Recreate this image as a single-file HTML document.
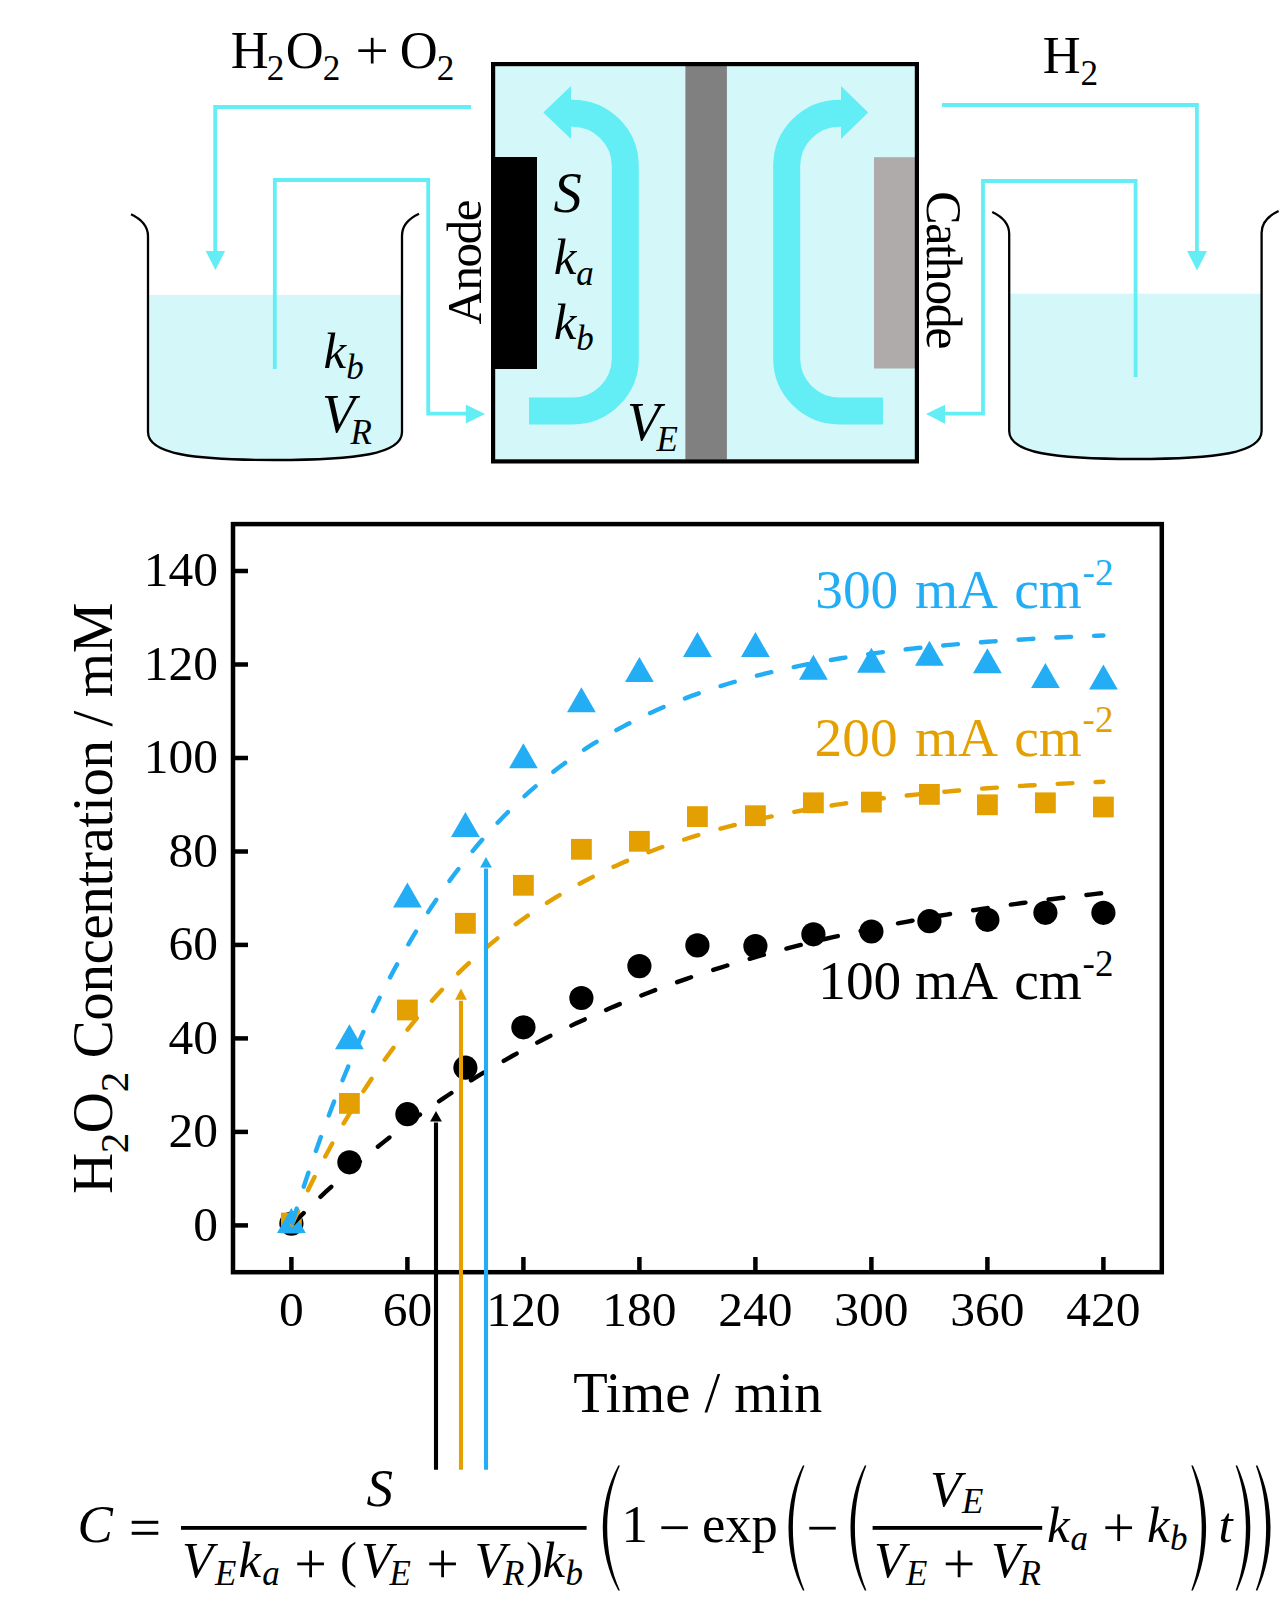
<!DOCTYPE html><html><head><meta charset="utf-8"><style>html,body{margin:0;padding:0;background:#fff;}body{width:1285px;height:1614px;position:relative;overflow:hidden;font-family:"Liberation Serif",serif;}</style></head><body><svg width="1285" height="1614" viewBox="0 0 1285 1614" style="position:absolute;left:0;top:0">
<path d="M148,295 H402 V432 C402,454 357,460 275.0,460 C193,460 148,454 148,432 Z" fill="#d4f8fa"/><path d="M131,214.2 Q148,222.2 148,236.2 V432 C148,454 193,460 275.0,460 C357,460 402,454 402,432 V235.8 Q402,221.8 419,213.8" fill="none" stroke="#000" stroke-width="2.3"/>
<path d="M1009.2,293.7 H1261.6 V431 C1261.6,453 1216.6,459 1135.4,459 C1054.2,459 1009.2,453 1009.2,431 Z" fill="#d4f8fa"/><path d="M992.2,212 Q1009.2,220 1009.2,234 V431 C1009.2,453 1054.2,459 1135.4,459 C1216.6,459 1261.6,453 1261.6,431 V233 Q1261.6,219 1278.6,211" fill="none" stroke="#000" stroke-width="2.3"/>
<rect x="493.1" y="64.1" width="423.8" height="397.3" fill="#d4f8fa"/>
<rect x="685.4" y="66" width="41.5" height="393.5" fill="#808080"/>
<rect x="491" y="157" width="46" height="212" fill="#000"/>
<rect x="874" y="157.2" width="42" height="211.3" fill="#afabab"/>
<rect x="493.1" y="64.1" width="423.8" height="397.3" fill="none" stroke="#000" stroke-width="4.2"/>
<path d="M529,411 H572.8 A52.5,52.5 0 0 0 625.3,358.4 V166 A52.8,52.8 0 0 0 572.5,113.2 H570" fill="none" stroke="#62eef4" stroke-width="27"/>
<polygon points="571,86 543.3,112.5 571,139" fill="#62eef4"/>
<path d="M883,411 H839.2 A52.5,52.5 0 0 1 786.7,358.4 V166 A52.8,52.8 0 0 1 839.5,113.2 H842" fill="none" stroke="#62eef4" stroke-width="27"/>
<polygon points="841,86 868.2,112.5 841,139" fill="#62eef4"/>
<path d="M471,107 H215.2 V253" fill="none" stroke="#62eef4" stroke-width="3.8"/>
<polygon points="205.7,251 225.1,251 215.4,270" fill="#62eef4"/>
<path d="M274.8,369 V180 H428.2 V413.6 H467" fill="none" stroke="#62eef4" stroke-width="3.8"/>
<polygon points="465.8,404.5 465.8,423.6 485,414" fill="#62eef4"/>
<path d="M942,105 H1196.9 V252" fill="none" stroke="#62eef4" stroke-width="3.8"/>
<polygon points="1187.2,251 1207,251 1197,270.5" fill="#62eef4"/>
<path d="M1135.6,377 V181 H983 V413.6 H944" fill="none" stroke="#62eef4" stroke-width="3.8"/>
<polygon points="945,404.7 945,423.7 926,414" fill="#62eef4"/>
<text y="68.2" font-family="Liberation Serif" font-size="52.5"><tspan x="230.8">H</tspan><tspan x="285.75">O</tspan><tspan x="399.65">O</tspan></text>
<text y="79.7" font-family="Liberation Serif" font-size="35.2"><tspan x="266.8">2</tspan><tspan x="322.8">2</tspan><tspan x="436.8">2</tspan></text>
<rect x="358.3" y="49.3" width="27.7" height="2.7" fill="#000"/><rect x="370.85" y="37.8" width="2.7" height="25.7" fill="#000"/>
<text x="1042.7" y="73.2" font-family="Liberation Serif" font-size="52.5">H<tspan font-size="35.2" dy="11.5">2</tspan></text>
<text transform="translate(481.4,324.5) rotate(-90)" x="0" y="0" font-family="Liberation Serif" font-size="49" letter-spacing="-1.4">Anode</text>
<text transform="translate(927.3,191.3) rotate(90)" x="0" y="0" font-family="Liberation Serif" font-size="50" letter-spacing="-1.4">Cathode</text>
<text x="553.5" y="212" font-family="Liberation Serif" font-size="56.5" font-style="italic">S</text>
<text x="553.7" y="274.2" font-family="Liberation Serif" font-size="51" font-style="italic">k<tspan font-size="35" dy="11">a</tspan></text>
<text x="553.7" y="338.5" font-family="Liberation Serif" font-size="51" font-style="italic">k<tspan font-size="35" dy="11">b</tspan></text>
<text x="323.5" y="367.9" font-family="Liberation Serif" font-size="51" font-style="italic">k<tspan font-size="35" dy="11">b</tspan></text>
<text x="322" y="432.1" font-family="Liberation Serif" font-size="54" font-style="italic">V<tspan font-size="35" dy="11.5" dx="-4.5">R</tspan></text>
<text x="627" y="439.6" font-family="Liberation Serif" font-size="54" font-style="italic">V<tspan font-size="35" dy="11.5" dx="-3.5">E</tspan></text>
<rect x="233" y="524.1" width="928.8" height="748.1" fill="none" stroke="#000" stroke-width="4.5"/>
<line x1="235" y1="1225.4" x2="248" y2="1225.4" stroke="#000" stroke-width="4.5"/>
<text x="218" y="1240.8000000000002" font-family="Liberation Serif" font-size="49.5" text-anchor="end" fill="#000" >0</text>
<line x1="235" y1="1131.9" x2="248" y2="1131.9" stroke="#000" stroke-width="4.5"/>
<text x="218" y="1147.314285714286" font-family="Liberation Serif" font-size="49.5" text-anchor="end" fill="#000" >20</text>
<line x1="235" y1="1038.4" x2="248" y2="1038.4" stroke="#000" stroke-width="4.5"/>
<text x="218" y="1053.8285714285716" font-family="Liberation Serif" font-size="49.5" text-anchor="end" fill="#000" >40</text>
<line x1="235" y1="944.9" x2="248" y2="944.9" stroke="#000" stroke-width="4.5"/>
<text x="218" y="960.3428571428573" font-family="Liberation Serif" font-size="49.5" text-anchor="end" fill="#000" >60</text>
<line x1="235" y1="851.5" x2="248" y2="851.5" stroke="#000" stroke-width="4.5"/>
<text x="218" y="866.857142857143" font-family="Liberation Serif" font-size="49.5" text-anchor="end" fill="#000" >80</text>
<line x1="235" y1="758.0" x2="248" y2="758.0" stroke="#000" stroke-width="4.5"/>
<text x="218" y="773.3714285714286" font-family="Liberation Serif" font-size="49.5" text-anchor="end" fill="#000" >100</text>
<line x1="235" y1="664.5" x2="248" y2="664.5" stroke="#000" stroke-width="4.5"/>
<text x="218" y="679.8857142857144" font-family="Liberation Serif" font-size="49.5" text-anchor="end" fill="#000" >120</text>
<line x1="235" y1="571.0" x2="248" y2="571.0" stroke="#000" stroke-width="4.5"/>
<text x="218" y="586.4000000000001" font-family="Liberation Serif" font-size="49.5" text-anchor="end" fill="#000" >140</text>
<line x1="291.4" y1="1270" x2="291.4" y2="1257" stroke="#000" stroke-width="4.5"/>
<text x="291.4" y="1325.7" font-family="Liberation Serif" font-size="49.5" text-anchor="middle" fill="#000" >0</text>
<line x1="407.4" y1="1270" x2="407.4" y2="1257" stroke="#000" stroke-width="4.5"/>
<text x="407.4" y="1325.7" font-family="Liberation Serif" font-size="49.5" text-anchor="middle" fill="#000" >60</text>
<line x1="523.4" y1="1270" x2="523.4" y2="1257" stroke="#000" stroke-width="4.5"/>
<text x="523.4" y="1325.7" font-family="Liberation Serif" font-size="49.5" text-anchor="middle" fill="#000" >120</text>
<line x1="639.4" y1="1270" x2="639.4" y2="1257" stroke="#000" stroke-width="4.5"/>
<text x="639.4" y="1325.7" font-family="Liberation Serif" font-size="49.5" text-anchor="middle" fill="#000" >180</text>
<line x1="755.4" y1="1270" x2="755.4" y2="1257" stroke="#000" stroke-width="4.5"/>
<text x="755.4" y="1325.7" font-family="Liberation Serif" font-size="49.5" text-anchor="middle" fill="#000" >240</text>
<line x1="871.4" y1="1270" x2="871.4" y2="1257" stroke="#000" stroke-width="4.5"/>
<text x="871.4" y="1325.7" font-family="Liberation Serif" font-size="49.5" text-anchor="middle" fill="#000" >300</text>
<line x1="987.4" y1="1270" x2="987.4" y2="1257" stroke="#000" stroke-width="4.5"/>
<text x="987.4" y="1325.7" font-family="Liberation Serif" font-size="49.5" text-anchor="middle" fill="#000" >360</text>
<line x1="1103.4" y1="1270" x2="1103.4" y2="1257" stroke="#000" stroke-width="4.5"/>
<text x="1103.4" y="1325.7" font-family="Liberation Serif" font-size="49.5" text-anchor="middle" fill="#000" >420</text>
<text x="697.7" y="1411.8" font-family="Liberation Serif" font-size="56.5" text-anchor="middle" fill="#000" >Time / min</text>
<text transform="translate(111.6,898.5) rotate(-90)" x="0" y="0" font-family="Liberation Serif" font-size="57" text-anchor="middle" letter-spacing="-0.38">H<tspan font-size="41" dy="16">2</tspan><tspan dy="-16">O</tspan><tspan font-size="41" dy="16">2</tspan><tspan dy="-16"> Concentration / mM</tspan></text>
<circle cx="291.4" cy="1223.6" r="12.1" fill="#000"/>
<circle cx="349.4" cy="1162.3" r="12.1" fill="#000"/>
<circle cx="407.4" cy="1114.2" r="12.1" fill="#000"/>
<circle cx="465.4" cy="1067.7" r="12.1" fill="#000"/>
<circle cx="523.4" cy="1027.3" r="12.1" fill="#000"/>
<circle cx="581.4" cy="998" r="12.1" fill="#000"/>
<circle cx="639.4" cy="966.1" r="12.1" fill="#000"/>
<circle cx="697.4" cy="945.4" r="12.1" fill="#000"/>
<circle cx="755.4" cy="946.1" r="12.1" fill="#000"/>
<circle cx="813.4" cy="934.3" r="12.1" fill="#000"/>
<circle cx="871.4" cy="931.5" r="12.1" fill="#000"/>
<circle cx="929.4" cy="921.2" r="12.1" fill="#000"/>
<circle cx="987.4" cy="919.8" r="12.1" fill="#000"/>
<circle cx="1045.4" cy="912.8" r="12.1" fill="#000"/>
<circle cx="1103.4" cy="912.8" r="12.1" fill="#000"/>
<rect x="281.0" y="1212.6" width="20.8" height="20.8" fill="#e4a000"/>
<rect x="339.0" y="1093.0" width="20.8" height="20.8" fill="#e4a000"/>
<rect x="397.0" y="999.6" width="20.8" height="20.8" fill="#e4a000"/>
<rect x="455.0" y="912.9" width="20.8" height="20.8" fill="#e4a000"/>
<rect x="513.0" y="874.9" width="20.8" height="20.8" fill="#e4a000"/>
<rect x="571.0" y="838.9" width="20.8" height="20.8" fill="#e4a000"/>
<rect x="629.0" y="830.9" width="20.8" height="20.8" fill="#e4a000"/>
<rect x="687.0" y="806.2" width="20.8" height="20.8" fill="#e4a000"/>
<rect x="745.0" y="805.3" width="20.8" height="20.8" fill="#e4a000"/>
<rect x="803.0" y="792.4" width="20.8" height="20.8" fill="#e4a000"/>
<rect x="861.0" y="791.7" width="20.8" height="20.8" fill="#e4a000"/>
<rect x="919.0" y="784.0" width="20.8" height="20.8" fill="#e4a000"/>
<rect x="977.0" y="794.4" width="20.8" height="20.8" fill="#e4a000"/>
<rect x="1035.0" y="792.4" width="20.8" height="20.8" fill="#e4a000"/>
<rect x="1093.0" y="796.6" width="20.8" height="20.8" fill="#e4a000"/>
<polygon points="277.0,1232.9 305.8,1232.9 291.4,1207.9" fill="#22adf5"/>
<polygon points="335.0,1049.2 363.8,1049.2 349.4,1024.2" fill="#22adf5"/>
<polygon points="393.0,907.6 421.8,907.6 407.4,882.6" fill="#22adf5"/>
<polygon points="451.0,837 479.8,837 465.4,812" fill="#22adf5"/>
<polygon points="509.0,768.3 537.8,768.3 523.4,743.3" fill="#22adf5"/>
<polygon points="567.0,712.3 595.8,712.3 581.4,687.3" fill="#22adf5"/>
<polygon points="625.0,681.9 653.8,681.9 639.4,656.9" fill="#22adf5"/>
<polygon points="683.0,657 711.8,657 697.4,632" fill="#22adf5"/>
<polygon points="741.0,657 769.8,657 755.4,632" fill="#22adf5"/>
<polygon points="799.0,679.7 827.8,679.7 813.4,654.7" fill="#22adf5"/>
<polygon points="857.0,672.7 885.8,672.7 871.4,647.7" fill="#22adf5"/>
<polygon points="915.0,665.7 943.8,665.7 929.4,640.7" fill="#22adf5"/>
<polygon points="973.0,673.2 1001.8,673.2 987.4,648.2" fill="#22adf5"/>
<polygon points="1031.1,688.1 1059.8,688.1 1045.4,663.1" fill="#22adf5"/>
<polygon points="1089.1,689.5 1117.8,689.5 1103.4,664.5" fill="#22adf5"/>
<path d="M291.40,1225.40 L297.20,1219.51 L303.00,1213.72 L308.80,1208.02 L314.60,1202.41 L320.40,1196.89 L326.20,1191.45 L332.00,1186.11 L337.80,1180.84 L343.60,1175.66 L349.40,1170.56 L355.20,1165.54 L361.00,1160.60 L366.80,1155.74 L372.60,1150.96 L378.40,1146.25 L384.20,1141.61 L390.00,1137.05 L395.80,1132.56 L401.60,1128.14 L407.40,1123.80 L413.20,1119.52 L419.00,1115.31 L424.80,1111.16 L430.60,1107.08 L436.40,1103.06 L442.20,1099.11 L448.00,1095.22 L453.80,1091.39 L459.60,1087.63 L465.40,1083.92 L471.20,1080.27 L477.00,1076.68 L482.80,1073.14 L488.60,1069.66 L494.40,1066.24 L500.20,1062.87 L506.00,1059.55 L511.80,1056.29 L517.60,1053.08 L523.40,1049.91 L529.20,1046.80 L535.00,1043.74 L540.80,1040.72 L546.60,1037.76 L552.40,1034.84 L558.20,1031.96 L564.00,1029.14 L569.80,1026.35 L575.60,1023.61 L581.40,1020.92 L587.20,1018.26 L593.00,1015.65 L598.80,1013.08 L604.60,1010.55 L610.40,1008.06 L616.20,1005.61 L622.00,1003.20 L627.80,1000.82 L633.60,998.49 L639.40,996.19 L645.20,993.93 L651.00,991.70 L656.80,989.51 L662.60,987.35 L668.40,985.23 L674.20,983.14 L680.00,981.08 L685.80,979.06 L691.60,977.06 L697.40,975.10 L703.20,973.17 L709.00,971.27 L714.80,969.41 L720.60,967.57 L726.40,965.75 L732.20,963.97 L738.00,962.22 L743.80,960.49 L749.60,958.79 L755.40,957.12 L761.20,955.48 L767.00,953.86 L772.80,952.26 L778.60,950.69 L784.40,949.15 L790.20,947.63 L796.00,946.14 L801.80,944.66 L807.60,943.21 L813.40,941.79 L819.20,940.39 L825.00,939.01 L830.80,937.65 L836.60,936.31 L842.40,934.99 L848.20,933.70 L854.00,932.42 L859.80,931.17 L865.60,929.93 L871.40,928.71 L877.20,927.52 L883.00,926.34 L888.80,925.18 L894.60,924.04 L900.40,922.92 L906.20,921.81 L912.00,920.72 L917.80,919.65 L923.60,918.60 L929.40,917.56 L935.20,916.54 L941.00,915.54 L946.80,914.55 L952.60,913.58 L958.40,912.62 L964.20,911.68 L970.00,910.75 L975.80,909.84 L981.60,908.94 L987.40,908.06 L993.20,907.19 L999.00,906.33 L1004.80,905.49 L1010.60,904.66 L1016.40,903.84 L1022.20,903.04 L1028.00,902.25 L1033.80,901.47 L1039.60,900.70 L1045.40,899.95 L1051.20,899.21 L1057.00,898.48 L1062.80,897.76 L1068.60,897.05 L1074.40,896.35 L1080.20,895.67 L1086.00,895.00 L1091.80,894.33 L1097.60,893.68 L1103.40,893.04" fill="none" stroke="#000" stroke-width="4.4" stroke-dasharray="14.8 23.33" stroke-dashoffset="-2.6" stroke-linecap="round"/>
<path d="M291.40,1225.40 L297.20,1212.76 L303.00,1200.47 L308.80,1188.53 L314.60,1176.92 L320.40,1165.64 L326.20,1154.67 L332.00,1144.01 L337.80,1133.64 L343.60,1123.57 L349.40,1113.77 L355.20,1104.25 L361.00,1095.00 L366.80,1086.01 L372.60,1077.26 L378.40,1068.76 L384.20,1060.50 L390.00,1052.47 L395.80,1044.67 L401.60,1037.08 L407.40,1029.70 L413.20,1022.53 L419.00,1015.56 L424.80,1008.79 L430.60,1002.21 L436.40,995.80 L442.20,989.58 L448.00,983.53 L453.80,977.66 L459.60,971.94 L465.40,966.39 L471.20,960.99 L477.00,955.74 L482.80,950.64 L488.60,945.68 L494.40,940.86 L500.20,936.17 L506.00,931.61 L511.80,927.19 L517.60,922.88 L523.40,918.70 L529.20,914.63 L535.00,910.68 L540.80,906.84 L546.60,903.10 L552.40,899.47 L558.20,895.94 L564.00,892.51 L569.80,889.18 L575.60,885.93 L581.40,882.78 L587.20,879.72 L593.00,876.74 L598.80,873.85 L604.60,871.04 L610.40,868.30 L616.20,865.64 L622.00,863.06 L627.80,860.55 L633.60,858.11 L639.40,855.73 L645.20,853.43 L651.00,851.19 L656.80,849.01 L662.60,846.89 L668.40,844.83 L674.20,842.83 L680.00,840.88 L685.80,838.99 L691.60,837.15 L697.40,835.36 L703.20,833.63 L709.00,831.94 L714.80,830.30 L720.60,828.70 L726.40,827.15 L732.20,825.64 L738.00,824.18 L743.80,822.75 L749.60,821.37 L755.40,820.02 L761.20,818.71 L767.00,817.44 L772.80,816.20 L778.60,815.00 L784.40,813.83 L790.20,812.70 L796.00,811.59 L801.80,810.52 L807.60,809.48 L813.40,808.46 L819.20,807.48 L825.00,806.52 L830.80,805.59 L836.60,804.68 L842.40,803.81 L848.20,802.95 L854.00,802.12 L859.80,801.31 L865.60,800.53 L871.40,799.76 L877.20,799.02 L883.00,798.30 L888.80,797.60 L894.60,796.92 L900.40,796.25 L906.20,795.61 L912.00,794.98 L917.80,794.37 L923.60,793.78 L929.40,793.21 L935.20,792.65 L941.00,792.10 L946.80,791.58 L952.60,791.06 L958.40,790.56 L964.20,790.08 L970.00,789.61 L975.80,789.15 L981.60,788.70 L987.40,788.27 L993.20,787.85 L999.00,787.44 L1004.80,787.04 L1010.60,786.66 L1016.40,786.28 L1022.20,785.91 L1028.00,785.56 L1033.80,785.21 L1039.60,784.88 L1045.40,784.55 L1051.20,784.24 L1057.00,783.93 L1062.80,783.63 L1068.60,783.34 L1074.40,783.05 L1080.20,782.78 L1086.00,782.51 L1091.80,782.25 L1097.60,782.00 L1103.40,781.75" fill="none" stroke="#e4a000" stroke-width="4.4" stroke-dasharray="14.8 23.07" stroke-dashoffset="-1.0" stroke-linecap="round"/>
<path d="M291.40,1225.40 L297.20,1206.85 L303.00,1188.87 L308.80,1171.46 L314.60,1154.58 L320.40,1138.23 L326.20,1122.39 L332.00,1107.04 L337.80,1092.16 L343.60,1077.75 L349.40,1063.78 L355.20,1050.25 L361.00,1037.14 L366.80,1024.44 L372.60,1012.13 L378.40,1000.21 L384.20,988.65 L390.00,977.46 L395.80,966.61 L401.60,956.10 L407.40,945.91 L413.20,936.04 L419.00,926.48 L424.80,917.22 L430.60,908.24 L436.40,899.54 L442.20,891.11 L448.00,882.95 L453.80,875.03 L459.60,867.37 L465.40,859.94 L471.20,852.74 L477.00,845.77 L482.80,839.01 L488.60,832.46 L494.40,826.12 L500.20,819.97 L506.00,814.02 L511.80,808.24 L517.60,802.65 L523.40,797.24 L529.20,791.99 L535.00,786.90 L540.80,781.97 L546.60,777.20 L552.40,772.57 L558.20,768.08 L564.00,763.74 L569.80,759.53 L575.60,755.45 L581.40,751.50 L587.20,747.67 L593.00,743.96 L598.80,740.37 L604.60,736.89 L610.40,733.51 L616.20,730.24 L622.00,727.07 L627.80,724.00 L633.60,721.03 L639.40,718.15 L645.20,715.35 L651.00,712.65 L656.80,710.03 L662.60,707.49 L668.40,705.03 L674.20,702.64 L680.00,700.33 L685.80,698.09 L691.60,695.92 L697.40,693.82 L703.20,691.78 L709.00,689.81 L714.80,687.90 L720.60,686.04 L726.40,684.25 L732.20,682.51 L738.00,680.82 L743.80,679.19 L749.60,677.61 L755.40,676.08 L761.20,674.59 L767.00,673.15 L772.80,671.76 L778.60,670.40 L784.40,669.10 L790.20,667.83 L796.00,666.60 L801.80,665.41 L807.60,664.25 L813.40,663.13 L819.20,662.05 L825.00,661.00 L830.80,659.98 L836.60,659.00 L842.40,658.04 L848.20,657.12 L854.00,656.22 L859.80,655.35 L865.60,654.51 L871.40,653.70 L877.20,652.91 L883.00,652.14 L888.80,651.40 L894.60,650.68 L900.40,649.98 L906.20,649.31 L912.00,648.65 L917.80,648.02 L923.60,647.41 L929.40,646.81 L935.20,646.24 L941.00,645.68 L946.80,645.14 L952.60,644.61 L958.40,644.10 L964.20,643.61 L970.00,643.13 L975.80,642.67 L981.60,642.22 L987.40,641.79 L993.20,641.37 L999.00,640.96 L1004.80,640.57 L1010.60,640.19 L1016.40,639.82 L1022.20,639.46 L1028.00,639.11 L1033.80,638.77 L1039.60,638.44 L1045.40,638.13 L1051.20,637.82 L1057.00,637.52 L1062.80,637.24 L1068.60,636.96 L1074.40,636.69 L1080.20,636.43 L1086.00,636.17 L1091.80,635.93 L1097.60,635.69 L1103.40,635.46" fill="none" stroke="#22adf5" stroke-width="4.4" stroke-dasharray="14.8 22.99" stroke-dashoffset="-2.8" stroke-linecap="round"/>
<text y="608.2" font-family="Liberation Serif" font-size="55.3" fill="#22adf5"><tspan x="815.3">300</tspan><tspan x="915.1">mA</tspan><tspan x="1014.3">cm</tspan><tspan x="1082.6" font-size="37" dy="-23.4">-2</tspan></text>
<text y="755.6" font-family="Liberation Serif" font-size="55.3" fill="#e4a000"><tspan x="814.6">200</tspan><tspan x="915.1">mA</tspan><tspan x="1014.3">cm</tspan><tspan x="1082.6" font-size="37" dy="-23.4">-2</tspan></text>
<text y="999.4" font-family="Liberation Serif" font-size="55.3" fill="#000"><tspan x="818.3">100</tspan><tspan x="915.1">mA</tspan><tspan x="1014.3">cm</tspan><tspan x="1082.6" font-size="37" dy="-23.4">-2</tspan></text>
<line x1="436" y1="1469.8" x2="436" y2="1122.6" stroke="#000" stroke-width="4.1"/>
<polygon points="430.1,1121.6 441.9,1121.6 436,1110.9" fill="#000"/>
<line x1="461" y1="1469.8" x2="461" y2="1000.8" stroke="#e4a000" stroke-width="4.1"/>
<polygon points="455.1,999.8 466.9,999.8 461,988.6" fill="#e4a000"/>
<line x1="486" y1="1469.8" x2="486" y2="868.5" stroke="#22adf5" stroke-width="4.1"/>
<polygon points="480.1,867.5 491.9,867.5 486,857" fill="#22adf5"/>
<text x="77.5" y="1541.7" font-family="Liberation Serif" font-size="53" font-style="italic">C</text>
<rect x="131.70" y="1520.80" width="26.60" height="3.00" fill="#000"/>
<rect x="131.70" y="1531.80" width="26.60" height="3.00" fill="#000"/>
<rect x="181" y="1526" width="405.6" height="3.8" fill="#000"/>
<text x="366.5" y="1505.5" font-family="Liberation Serif" font-size="53" font-style="italic">S</text>
<text x="182" y="1576.7" font-family="Liberation Serif" font-size="51" font-style="italic">V</text>
<text x="215" y="1584.7" font-family="Liberation Serif" font-size="35" font-style="italic">E</text>
<text x="238.5" y="1576.7" font-family="Liberation Serif" font-size="51" font-style="italic">k</text>
<text x="262.3" y="1584.7" font-family="Liberation Serif" font-size="35" font-style="italic">a</text>
<rect x="297.25" y="1562.50" width="26.70" height="2.80" fill="#000"/>
<rect x="309.20" y="1550.55" width="2.80" height="26.70" fill="#000"/>
<text x="340" y="1576.7" font-family="Liberation Serif" font-size="51">(</text>
<text x="361" y="1576.7" font-family="Liberation Serif" font-size="51" font-style="italic">V</text>
<text x="389.5" y="1584.7" font-family="Liberation Serif" font-size="35" font-style="italic">E</text>
<rect x="429.25" y="1562.50" width="26.70" height="2.80" fill="#000"/>
<rect x="441.20" y="1550.55" width="2.80" height="26.70" fill="#000"/>
<text x="474.5" y="1576.7" font-family="Liberation Serif" font-size="51" font-style="italic">V</text>
<text x="503" y="1584.7" font-family="Liberation Serif" font-size="35" font-style="italic">R</text>
<text x="526" y="1576.7" font-family="Liberation Serif" font-size="51">)</text>
<text x="542.5" y="1576.7" font-family="Liberation Serif" font-size="51" font-style="italic">k</text>
<text x="565.5" y="1584.7" font-family="Liberation Serif" font-size="35" font-style="italic">b</text>
<rect x="872.6" y="1526" width="169.6" height="3.8" fill="#000"/>
<text x="930" y="1505.5" font-family="Liberation Serif" font-size="51" font-style="italic">V</text>
<text x="962" y="1513.2" font-family="Liberation Serif" font-size="35" font-style="italic">E</text>
<text x="874" y="1576.7" font-family="Liberation Serif" font-size="51" font-style="italic">V</text>
<text x="906" y="1584.7" font-family="Liberation Serif" font-size="35" font-style="italic">E</text>
<rect x="945.75" y="1562.50" width="26.70" height="2.80" fill="#000"/>
<rect x="957.70" y="1550.55" width="2.80" height="26.70" fill="#000"/>
<text x="991" y="1576.7" font-family="Liberation Serif" font-size="51" font-style="italic">V</text>
<text x="1019.5" y="1584.7" font-family="Liberation Serif" font-size="35" font-style="italic">R</text>
<text x="621.5" y="1541.7" font-family="Liberation Serif" font-size="53">1</text>
<rect x="661.35" y="1526.30" width="26.50" height="2.80" fill="#000"/>
<text x="702" y="1541.7" font-family="Liberation Serif" font-size="52.5">exp</text>
<rect x="809.25" y="1526.80" width="26.50" height="2.80" fill="#000"/>
<text x="1047" y="1541.7" font-family="Liberation Serif" font-size="51" font-style="italic">k</text>
<text x="1070.5" y="1549.7" font-family="Liberation Serif" font-size="35" font-style="italic">a</text>
<rect x="1105.35" y="1526.30" width="26.70" height="2.80" fill="#000"/>
<rect x="1117.30" y="1514.35" width="2.80" height="26.70" fill="#000"/>
<text x="1147" y="1541.7" font-family="Liberation Serif" font-size="51" font-style="italic">k</text>
<text x="1170" y="1549.7" font-family="Liberation Serif" font-size="35" font-style="italic">b</text>
<text x="1218.5" y="1541.7" font-family="Liberation Serif" font-size="51" font-style="italic">t</text>
<path d="M618.30,1465.5 C597.63,1503.00 597.63,1553.00 618.30,1590.5 L619.90,1590.5 C602.97,1553.00 602.97,1503.00 619.90,1465.5 Z" fill="#000"/>
<path d="M802.90,1465.5 C783.70,1503.00 783.70,1553.00 802.90,1590.5 L804.50,1590.5 C789.03,1553.00 789.03,1503.00 804.50,1465.5 Z" fill="#000"/>
<path d="M864.80,1465.5 C845.73,1503.00 845.73,1553.00 864.80,1590.5 L866.40,1590.5 C851.07,1553.00 851.07,1503.00 866.40,1465.5 Z" fill="#000"/>
<path d="M1192.90,1465.5 C1210.50,1503.00 1210.50,1553.00 1192.90,1590.5 L1191.30,1590.5 C1205.17,1553.00 1205.17,1503.00 1191.30,1465.5 Z" fill="#000"/>
<path d="M1237.20,1465.5 C1254.67,1503.00 1254.67,1553.00 1237.20,1590.5 L1235.60,1590.5 C1249.33,1553.00 1249.33,1503.00 1235.60,1465.5 Z" fill="#000"/>
<path d="M1257.40,1465.5 C1274.87,1503.00 1274.87,1553.00 1257.40,1590.5 L1255.80,1590.5 C1269.53,1553.00 1269.53,1503.00 1255.80,1465.5 Z" fill="#000"/>
</svg></body></html>
